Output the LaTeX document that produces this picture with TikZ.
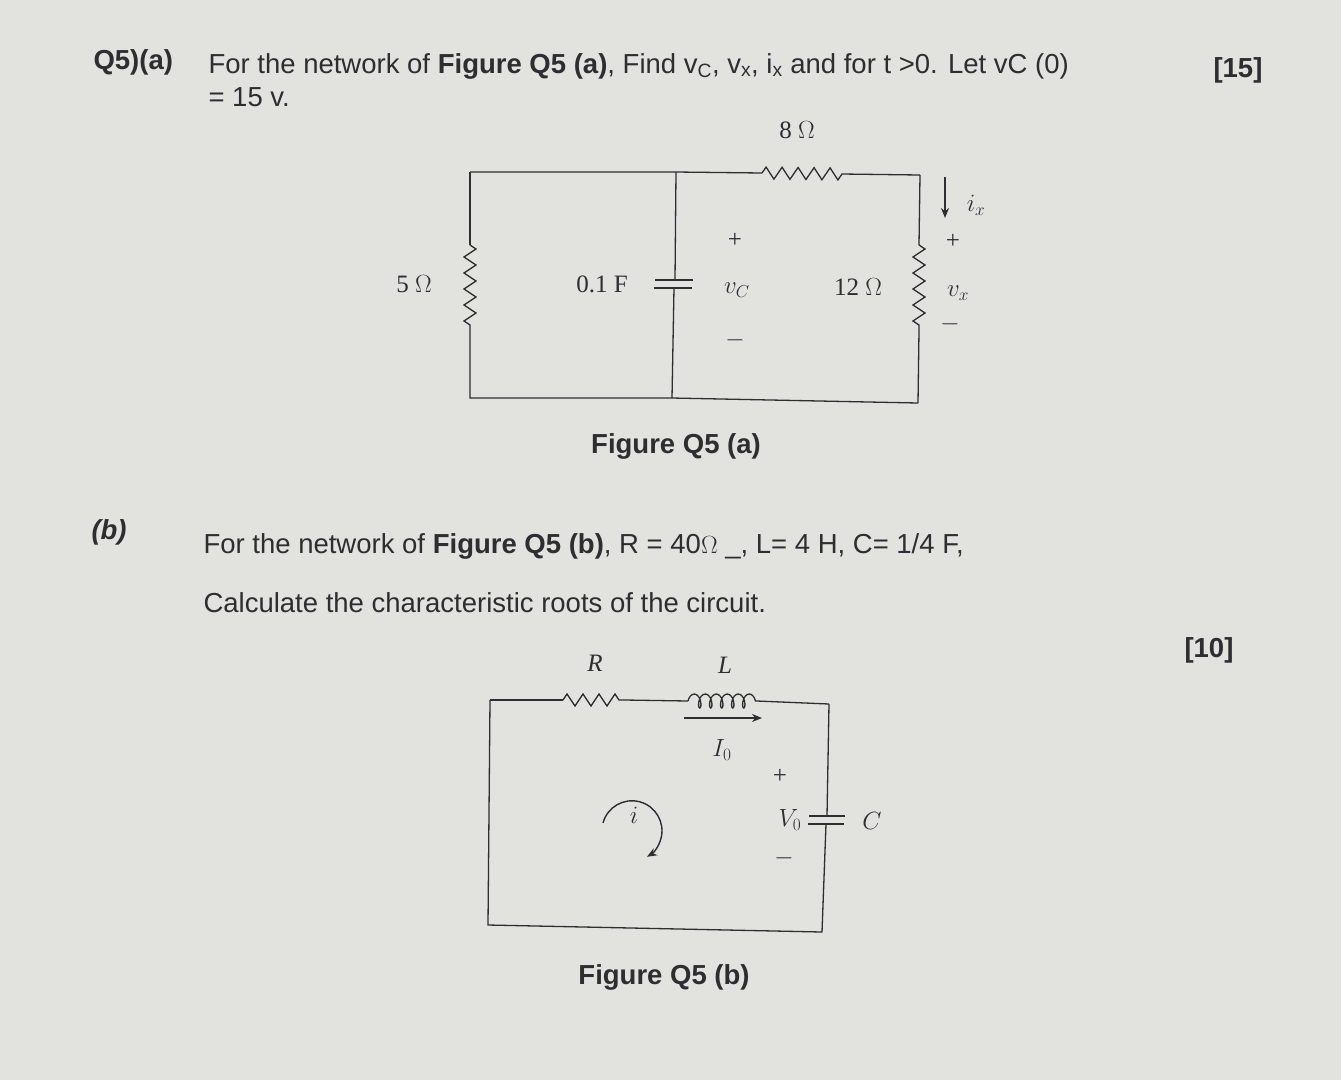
\documentclass[tikz,border=0pt]{standalone}
\usepackage{fontspec}
\setmainfont{Liberation Sans}
\newfontfamily\serif{Liberation Serif}
\usetikzlibrary{decorations.pathmorphing,arrows.meta,calc}
\definecolor{paper}{RGB}{226,226,223}
\definecolor{ink}{RGB}{45,45,50}
\begin{document}
\begin{tikzpicture}[x=1pt,y=-1pt,
 every node/.style={text=ink},
 wire/.style={draw=ink,line width=1.3pt},
 res/.style={wire,decorate,decoration={zigzag,segment length=16,amplitude=6}},
 ind/.style={wire,decorate,decoration={coil,segment length=11,amplitude=7,aspect=0.5}},
 body/.style={font=\fontsize{27.5}{32}\selectfont,anchor=west},
 bbody/.style={font=\bfseries\fontsize{27.5}{32}\selectfont},
 lab/.style={font=\serif\fontsize{25}{28}\selectfont},
 arr/.style={draw=ink,line width=1.4pt,-{Stealth[length=10pt,width=8pt]}}]
\fill[paper] (0,0) rectangle (1341,1080);
% header text
\node[bbody,anchor=west] (q5) at (90,62) {Q5)(a)};
\node[body] (t1) at (205,66) {For the network of \textbf{Figure Q5 (a)}, Find v\textsubscript{C}, v\textsubscript{x}, i\textsubscript{x} and for t >0. Let vC (0)};
\node[body] (t2) at (205,97) {= 15 v.};
\node[bbody,anchor=west] (m15) at (1210,70) {[15]};
% figure a
\coordinate (tl) at (470,172); \coordinate (tm) at (676,172); \coordinate (tr) at (920,175);
\coordinate (bl) at (470,398); \coordinate (bm) at (672,398); \coordinate (br) at (918,403);
\coordinate (r8a) at (762,173); \coordinate (r8b) at (842,174);
\draw[wire] (tl) -- (tm) -- (r8a); \draw[res] (r8a) -- (r8b); \draw[wire] (r8b) -- (tr);
\coordinate (r5a) at (470,245); \coordinate (r5b) at (470,330);
\draw[wire] (tl) -- (r5a); \draw[res] (r5a) -- (r5b); \draw[wire] (r5b) -- (bl) -- (bm) -- (br);
\coordinate (r12a) at (919,245); \coordinate (r12b) at (919,330);
\draw[wire] (tr) -- (r12a); \draw[res] (r12a) -- (r12b); \draw[wire] (r12b) -- (br);
\coordinate (ca) at (675,280); \coordinate (cb) at (674,288);
\draw[wire] (tm) -- (ca); \draw[wire] (cb) -- (bm);
\draw[wire] ($(ca)+(-20,0)$) -- ($(ca)+(18,0)$);
\draw[wire] ($(cb)+(-20,0)$) -- ($(cb)+(18,0)$);
\node[lab] (l8) at (797,130) {8 $\Omega$};
\node[lab] (l5) at (414,284) {5 $\Omega$};
\node[lab] (l01) at (602,284) {0.1 F};
\node[lab] (lp1) at (735,240) {+};
\node[lab] (lvc) at (737,290) {$v_C$};
\node[lab] (lm1) at (735,340) {$-$};
\node[lab] (l12) at (858,287) {12 $\Omega$};
\coordinate (ixa) at (945,177); \coordinate (ixb) at (945,218);
\draw[arr] (ixa) -- (ixb);
\node[lab] (lix) at (976,205) {$i_x$};
\node[lab] (lp2) at (953,241) {+};
\node[lab] (lvx) at (958,293) {$v_x$};
\node[lab] (lm2) at (950,324) {$-$};
\node[bbody] (figa) at (676,446) {Figure Q5 (a)};
% part b
\node[body,font=\bfseries\itshape\fontsize{27.5}{32}\selectfont] (pb) at (88,532) {(b)};
\node[body] (t3) at (200,546) {For the network of \textbf{Figure Q5 (b)}, R = 40$\Omega$ \_, L= 4 H, C= 1/4 F,};
\node[body] (t4) at (200,603) {Calculate the characteristic roots of the circuit.};
\node[bbody,anchor=west] (m10) at (1181,650) {[10]};
% figure b
\coordinate (btl) at (490,700); \coordinate (btr) at (829,704);
\coordinate (bbl) at (488,925); \coordinate (bbr) at (822,932);
\coordinate (ra) at (563,700); \coordinate (rb) at (625,700);
\coordinate (la) at (688,701); \coordinate (lb) at (757,701);
\draw[wire] (btl) -- (ra); \draw[res] (ra) -- (rb); \draw[wire] (rb) -- (la);
\draw[ind] (la) -- (lb); \draw[wire] (lb) -- (btr);
\coordinate (cc1) at (827,816); \coordinate (cc2) at (826,824);
\draw[wire] (btr) -- (cc1); \draw[wire] (cc2) -- (bbr) -- (bbl) -- (btl);
\draw[wire] ($(cc1)+(-18,0)$) -- ($(cc1)+(18,0)$);
\draw[wire] ($(cc2)+(-18,0)$) -- ($(cc2)+(18,0)$);
\node[lab,font=\serif\itshape\fontsize{25}{28}\selectfont] (lr) at (595,663) {R};
\node[lab,font=\serif\itshape\fontsize{25}{28}\selectfont] (ll) at (725,665) {L};
\coordinate (ioa) at (684,718); \coordinate (iob) at (762,718);
\draw[arr] (ioa) -- (iob);
\node[lab] (lio) at (722,750) {$I_0$};
\node[lab] (lp3) at (780,776) {+};
\node[lab] (lv0) at (790,820) {$V_0$};
\node[lab] (lm3) at (784,858) {$-$};
\node[lab] (lc) at (872,821) {$C$};
\node[lab] (li) at (634,815) {$i$};
\draw[arr] (603,823) arc[start angle=195,end angle=420,radius=30];
\node[bbody] (figb) at (664,977) {Figure Q5 (b)};
\end{tikzpicture}
\end{document}
